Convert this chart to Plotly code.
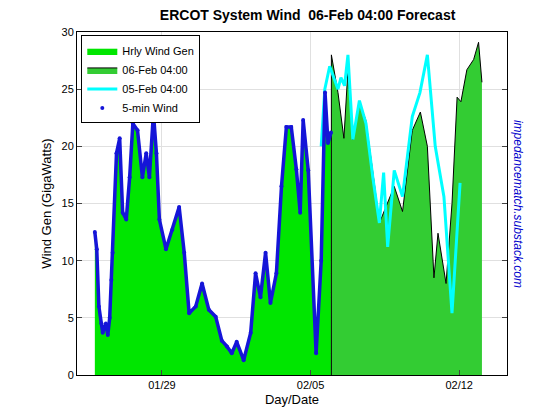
import pandas as pd
import plotly.graph_objects as go

base = pd.Timestamp("2025-01-25")
obs_days = [0.84,0.93,1.03,1.15,1.21,1.36,1.45,1.54,1.62,1.68,1.86,2.01,2.15,2.32,2.48,2.63,2.85,3.08,3.26,3.41,3.60,3.74,3.88,4.19,4.49,4.81,5.05,5.28,5.59,5.89,6.21,6.53,6.82,7.06,7.29,7.52,7.85,8.18,8.41,8.64,8.88,9.11,9.39,9.63,9.86,10.09,10.33,10.51,10.65,10.89,11.26,11.50,11.68,11.82,11.96]
obs_vals = [12.5,11,6,4.5,3.7,4.5,3.5,5,8.3,10.7,19.4,20.7,14.2,13.6,17.3,22,21.4,17.3,19.4,17.3,22.9,19.4,13.6,11,12.7,14.7,10.7,5.4,6,8,5.7,5.1,3,2.5,1.9,2.9,1.3,3.7,8.9,6.8,10.7,6.3,8.9,16.5,21.7,21.7,18,14.2,22.3,17.9,1.9,10,24.7,20.3,21.2]
fc_days = [11.98,11.98,12.29,12.57,12.76,12.99,13.30,13.60,14.00,14.24,14.94,15.33,15.79,16.17,16.50,16.81,17.00,17.38,17.66,17.90,18.08,18.36,18.68,18.91,19.07]
fc_vals = [0,28,24.7,20.7,26.7,20.6,23.9,22.3,16.8,13.3,16.5,14.3,21.4,23,20,8.5,12.4,8,15,24.3,23.9,26.7,27.6,29.1,25.6]
prev_days = [11.50,11.67,11.90,12.29,12.43,12.60,12.76,12.99,13.30,13.61,13.93,14.24,14.44,14.63,14.94,15.33,15.79,16.15,16.50,16.87,17.28,17.66,18.04]
prev_vals = [20,25,27,25,26,25.3,28,20.6,24,22,17.3,13.3,17.7,11.2,17.9,15.6,22.6,24.7,28,20,15.6,5.4,16.8]
tick_days = [4, 11, 18]
tick_labels = ["01/29", "02/05", "02/12"]

t = lambda d: [base + pd.Timedelta(days=x) for x in d]
blue = "#1515d8"

fig = go.Figure()
fig.add_trace(go.Scatter(x=t(obs_days), y=obs_vals, fill="tozeroy", mode="lines",
    line=dict(color="#00e600", width=0.5), fillcolor="#00e600", name="Hrly Wind Gen"))
fig.add_trace(go.Scatter(x=t(fc_days), y=fc_vals, fill="tozeroy", mode="lines",
    line=dict(color="black", width=1), fillcolor="#33cc33", name="06-Feb 04:00"))
fig.add_trace(go.Scatter(x=t(prev_days), y=prev_vals, mode="lines",
    line=dict(color="#00ffff", width=3), name="05-Feb 04:00"))
fig.add_trace(go.Scatter(x=t(obs_days), y=obs_vals, mode="lines",
    line=dict(color=blue, width=3.5), showlegend=False, hoverinfo="skip"))
fig.add_trace(go.Scatter(x=t(obs_days), y=obs_vals, mode="markers",
    marker=dict(size=4, color=blue), name="5-min Wind"))

fig.update_layout(
    width=560, height=420, margin=dict(l=69, r=61, t=24, b=53),
    paper_bgcolor="white", plot_bgcolor="white",
    font=dict(family="Liberation Sans, Arial", size=11, color="black"),
    title=dict(text="<b>ERCOT System Wind  06-Feb 04:00 Forecast</b>", x=0.535, xanchor="center",
               y=0.995, yanchor="top", font=dict(size=14)),
    legend=dict(x=0.01, y=0.99, xanchor="left", yanchor="top", bordercolor="black", borderwidth=1,
                bgcolor="white", font=dict(size=11), tracegroupgap=0),
    showlegend=True,
)
fig.update_xaxes(range=[base, base + pd.Timedelta(days=20.25)], tickvals=t(tick_days), ticktext=tick_labels,
    showgrid=True, gridcolor="#e0e0e0", showline=True, linecolor="black", mirror=True, ticks="inside",
    automargin=False, title=dict(text="Day/Date", font=dict(size=13), standoff=4))
fig.update_yaxes(range=[0, 30], dtick=5, showgrid=True, gridcolor="#e0e0e0", showline=True, linecolor="black",
    mirror="ticks", ticks="inside", automargin=False,
    title=dict(text="Wind Gen (GigaWatts)", font=dict(size=13), standoff=6))
fig.add_annotation(text="<i>impedancematch.substack.com</i>", xref="paper", yref="paper", x=1.027, y=0.5,
    textangle=90, showarrow=False, font=dict(color="#0000cc", size=12), xanchor="center")
fig.write_html("out.html")
